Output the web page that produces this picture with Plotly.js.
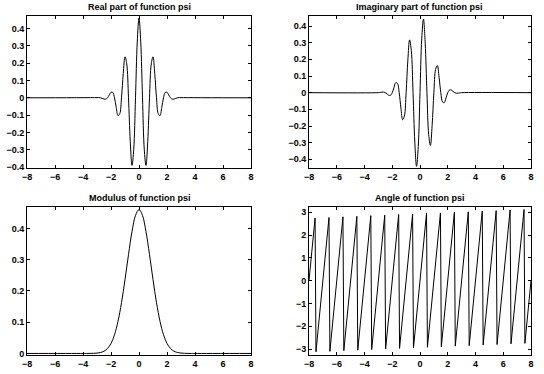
<!DOCTYPE html>
<html>
<head>
<meta charset="utf-8">
<script src="https://cdn.plot.ly/plotly-3.0.1.min.js"></script>
<style>html,body{margin:0;padding:0;background:#fff;}#chart{width:544px;height:374px;}</style>
</head>
<body>
<div id="chart"></div>
<script>
// Sample positions for the real and imaginary parts
var waveX = [-8, -3, -2.875, -2.75, -2.625, -2.5, -2.375, -2.25, -2.125, -2, -1.875, -1.75, -1.625, -1.5, -1.375, -1.25, -1.125, -1, -0.875, -0.75, -0.625, -0.5, -0.375, -0.25, -0.125, 0, 0.125, 0.25, 0.375, 0.5, 0.625, 0.75, 0.875, 1, 1.125, 1.25, 1.375, 1.5, 1.625, 1.75, 1.875, 2, 2.125, 2.25, 2.375, 2.5, 2.625, 2.75, 2.875, 3, 8];
// Real part of psi
var realY = [0, 0.0011, 0.0013, 0, -0.0033, -0.0071, -0.0076, 0, 0.0161, 0.0320, 0.0313, 0, -0.0560, -0.1028, -0.0923, 0, 0.1401, 0.2365, 0.1955, 0, -0.2511, -0.3900, -0.2966, 0, 0.3224, 0.4607, 0.3224, 0, -0.2966, -0.3900, -0.2511, 0, 0.1955, 0.2365, 0.1401, 0, -0.0923, -0.1028, -0.0560, 0, 0.0313, 0.0320, 0.0161, 0, -0.0076, -0.0071, -0.0033, 0, 0.0013, 0.0011, 0];
// Imaginary part of psi
var imagY = [0, 0, 0.0013, 0.0030, 0.0033, 0, -0.0076, -0.0158, -0.0161, 0, 0.0313, 0.0598, 0.0560, 0, -0.0923, -0.1626, -0.1401, 0, 0.1955, 0.3166, 0.2511, 0, -0.2966, -0.4419, -0.3224, 0, 0.3224, 0.4419, 0.2966, 0, -0.2511, -0.3166, -0.1955, 0, 0.1401, 0.1626, 0.0923, 0, -0.0560, -0.0598, -0.0313, 0, 0.0161, 0.0158, 0.0076, 0, -0.0033, -0.0030, -0.0013, 0, 0];
// Modulus of psi
var modX = [-8, -4, -3.75, -3.5, -3.25, -3, -2.75, -2.5, -2.25, -2, -1.75, -1.5, -1.25, -1, -0.75, -0.5, -0.25, 0, 0.25, 0.5, 0.75, 1, 1.25, 1.5, 1.75, 2, 2.25, 2.5, 2.75, 3, 3.25, 3.5, 3.75, 4, 8];
var modY = [0, 0, 0, 0.0001, 0.0004, 0.0011, 0.0030, 0.0071, 0.0158, 0.0320, 0.0598, 0.1028, 0.1626, 0.2365, 0.3166, 0.3900, 0.4419, 0.4607, 0.4419, 0.3900, 0.3166, 0.2365, 0.1626, 0.1028, 0.0598, 0.0320, 0.0158, 0.0071, 0.0030, 0.0011, 0.0004, 0.0001, 0, 0, 0];
// Angle of psi (sawtooth: start, top/bottom around each wrap, end)
var angleX = [-8, -7.562, -7.497, -6.559, -6.494, -5.554, -5.489, -4.551, -4.486, -3.546, -3.481, -2.543, -2.478, -1.538, -1.473, -0.535, -0.470, 0.470, 0.535, 1.473, 1.538, 2.478, 2.543, 3.481, 3.546, 4.486, 4.551, 5.489, 5.554, 6.494, 6.559, 7.497, 7.562, 8];
var angleY = [0, 2.75, -3.12, 2.77, -3.10, 2.80, -3.07, 2.82, -3.05, 2.85, -3.02, 2.87, -3.00, 2.90, -2.97, 2.92, -2.95, 2.95, -2.92, 2.97, -2.90, 3.00, -2.87, 3.02, -2.85, 3.05, -2.82, 3.07, -2.80, 3.10, -2.77, 3.12, -2.75, 0];

var titles = ['Real part of function psi', 'Imaginary part of function psi', 'Modulus of function psi', 'Angle of function psi'];
var xTicks = [-8, -6, -4, -2, 0, 2, 4, 6, 8];

var lineStyle = {color: '#000', width: 1};
var traces = [
  {x: waveX, y: realY, xaxis: 'x', yaxis: 'y', mode: 'lines', line: Object.assign({shape: 'spline', smoothing: 1}, lineStyle)},
  {x: waveX, y: imagY, xaxis: 'x2', yaxis: 'y2', mode: 'lines', line: Object.assign({shape: 'spline', smoothing: 1}, lineStyle)},
  {x: modX, y: modY, xaxis: 'x3', yaxis: 'y3', mode: 'lines', line: Object.assign({shape: 'spline', smoothing: 1}, lineStyle)},
  {x: angleX, y: angleY, xaxis: 'x4', yaxis: 'y4', mode: 'lines', line: lineStyle}
];

var tickFont = {family: 'Liberation Sans, Arial, sans-serif', size: 9, color: '#000', weight: 'bold'};
function ax(extra) {
  return Object.assign({
    showline: true, linecolor: '#000', linewidth: 1, mirror: 'allticks',
    ticks: 'inside', ticklen: 3, tickcolor: '#000', tickwidth: 1,
    showgrid: false, zeroline: false, tickfont: tickFont, fixedrange: true
  }, extra);
}
var colL = [27 / 544, 251 / 544];
var colR = [309 / 544, 531 / 544];
var rowT = [(374 - 168) / 374, (374 - 16) / 374];
var rowB = [(374 - 355) / 374, (374 - 207) / 374];

var layout = {
  width: 544, height: 374,
  margin: {l: 0, r: 0, t: 0, b: 0},
  paper_bgcolor: '#fff', plot_bgcolor: '#fff',
  showlegend: false,
  xaxis: ax({domain: colL, anchor: 'y', range: [-8, 8], tickvals: xTicks}),
  yaxis: ax({domain: rowT, anchor: 'x', range: [-0.405, 0.472], dtick: 0.1, tick0: 0}),
  xaxis2: ax({domain: colR, anchor: 'y2', range: [-8, 8], tickvals: xTicks}),
  yaxis2: ax({domain: rowT, anchor: 'x2', range: [-0.452, 0.46], dtick: 0.1, tick0: 0}),
  xaxis3: ax({domain: colL, anchor: 'y3', range: [-8, 8], tickvals: xTicks}),
  yaxis3: ax({domain: rowB, anchor: 'x3', range: [-0.005, 0.469], dtick: 0.1, tick0: 0}),
  xaxis4: ax({domain: colR, anchor: 'y4', range: [-8, 8], tickvals: xTicks}),
  yaxis4: ax({domain: rowB, anchor: 'x4', range: [-3.26, 3.23], dtick: 1, tick0: 0}),
  annotations: [
    {text: titles[0], x: (colL[0] + colL[1]) / 2, y: rowT[1]},
    {text: titles[1], x: (colR[0] + colR[1]) / 2, y: rowT[1]},
    {text: titles[2], x: (colL[0] + colL[1]) / 2, y: rowB[1]},
    {text: titles[3], x: (colR[0] + colR[1]) / 2, y: rowB[1]}
  ].map(function (a) {
    return Object.assign({xref: 'paper', yref: 'paper', xanchor: 'center', yanchor: 'bottom', showarrow: false, yshift: 2,
      font: {family: 'Liberation Sans, Arial, sans-serif', size: 9, color: '#000', weight: 'bold'}}, a);
  })
};

Plotly.newPlot('chart', traces, layout, {displayModeBar: false, staticPlot: true});
</script>
</body>
</html>
